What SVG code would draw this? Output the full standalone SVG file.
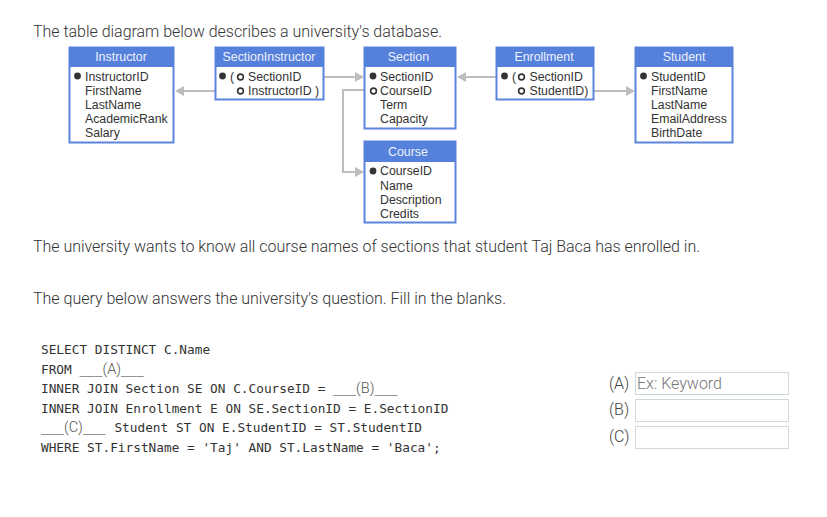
<svg xmlns="http://www.w3.org/2000/svg" width="827" height="517" viewBox="0 0 827 517">
<style>
.box{fill:#fff;stroke:#5b84dc;stroke-width:2}
.hd{fill:#5580db}
.ht{font:12.4px "Liberation Sans",Arial,sans-serif;fill:#eef2fb;text-anchor:middle}
.t{font:12.3px "Liberation Sans",Arial,sans-serif;fill:#333}
.p{font:300 16px Roboto,sans-serif;fill:#333}
.c{font:12.77px "DejaVu Sans Mono",monospace;fill:#333}
.l{font:300 16px Roboto,sans-serif;fill:#444}
.s{font:300 14.5px Roboto,sans-serif;fill:#555}
.b{fill:#333}
.o{fill:none;stroke:#333;stroke-width:1.6}
.line{fill:none;stroke:#bdbdbd;stroke-width:2}
.arrow{fill:#bdbdbd}
.inp{fill:#fff;stroke:#cfd8dc;stroke-width:1}
</style>
<rect width="827" height="517" fill="#fff"/>
<text class="p" x="33" y="37" textLength="409">The table diagram below describes a university's database.</text>
<g id="connectors">
<path class="line" d="M215 91H181M324 77H357M364 90H343V172H357M496 77H463M594 91H628"/>
<path class="arrow" d="M175 91l9-5v10zM364 77l-9-5v10zM364 172l-9-5v10zM457 77l9-5v10zM635 91l-9-5v10z"/>
</g>
<g id="instructor">
<rect class="box" x="69.500" y="47.500" width="104" height="95"/><rect class="hd" x="69" y="47" width="105" height="20"/>
<text class="ht" x="121" y="61">Instructor</text>
<circle class="b" cx="77.500" cy="76" r="3.400"/>
<text class="t" x="85" y="81">InstructorID</text><text class="t" x="85" y="95">FirstName</text><text class="t" x="85" y="109">LastName</text><text class="t" x="85" y="123">AcademicRank</text><text class="t" x="85" y="137">Salary</text>
</g>
<g id="sectioninstructor">
<rect class="box" x="215.500" y="47.500" width="108" height="52"/><rect class="hd" x="215" y="47" width="109" height="20"/>
<text class="ht" x="269" y="61">SectionInstructor</text>
<circle class="b" cx="222.500" cy="76" r="3.400"/>
<text class="t" x="230" y="81">(</text><circle class="o" cx="240.500" cy="77" r="2.900"/><text class="t" x="248" y="81">SectionID</text>
<circle class="o" cx="240.500" cy="91" r="2.900"/><text class="t" x="248" y="95">InstructorID )</text>
</g>
<g id="section">
<rect class="box" x="364.500" y="47.500" width="91" height="81"/><rect class="hd" x="364" y="47" width="92" height="20"/>
<text class="ht" x="408.500" y="61">Section</text>
<circle class="b" cx="373" cy="76" r="3.400"/><circle class="o" cx="373.500" cy="91" r="2.900"/>
<text class="t" x="380" y="81">SectionID</text><text class="t" x="380" y="95">CourseID</text><text class="t" x="380" y="109">Term</text><text class="t" x="380" y="123">Capacity</text>
</g>
<g id="course">
<rect class="box" x="364.500" y="141.500" width="91" height="81"/><rect class="hd" x="364" y="141" width="92" height="21"/>
<text class="ht" x="408" y="156">Course</text>
<circle class="b" cx="373" cy="171" r="3.400"/>
<text class="t" x="380" y="175">CourseID</text><text class="t" x="380" y="190">Name</text><text class="t" x="380" y="204">Description</text><text class="t" x="380" y="218">Credits</text>
</g>
<g id="enrollment">
<rect class="box" x="496.500" y="47.500" width="97" height="52"/><rect class="hd" x="496" y="47" width="98" height="20"/>
<text class="ht" x="544" y="61">Enrollment</text>
<circle class="b" cx="504.500" cy="76" r="3.400"/>
<text class="t" x="512" y="81">(</text><circle class="o" cx="521.500" cy="77" r="2.900"/><text class="t" x="529.500" y="81">SectionID</text>
<circle class="o" cx="521.500" cy="91" r="2.900"/><text class="t" x="529.500" y="95">StudentID)</text>
</g>
<g id="student">
<rect class="box" x="635.500" y="47.500" width="97" height="95"/><rect class="hd" x="635" y="47" width="98" height="20"/>
<text class="ht" x="684" y="61">Student</text>
<circle class="b" cx="643.500" cy="76" r="3.400"/>
<text class="t" x="651" y="81">StudentID</text><text class="t" x="651" y="95">FirstName</text><text class="t" x="651" y="109">LastName</text><text class="t" x="651" y="123">EmailAddress</text><text class="t" x="651" y="137">BirthDate</text>
</g>
<text class="p" x="33" y="252" textLength="667">The university wants to know all course names of sections that student Taj Baca has enrolled in.</text>
<text class="p" x="33" y="304" textLength="473">The query below answers the university's question. Fill in the blanks.</text>
<text class="c" x="41" y="354">SELECT DISTINCT C.Name</text>
<text class="c" x="41" y="374">FROM ___<tspan class="s">(A)</tspan>___</text>
<text class="c" x="41" y="393">INNER JOIN Section SE ON C.CourseID = ___<tspan class="s">(B)</tspan>___</text>
<text class="c" x="41" y="413">INNER JOIN Enrollment E ON SE.SectionID = E.SectionID</text>
<text class="c" x="41" y="432">___<tspan class="s">(C)</tspan>___<tspan dx="1"> </tspan>Student ST ON E.StudentID = ST.StudentID</text>
<text class="c" x="41" y="452">WHERE ST.FirstName = 'Taj' AND ST.LastName = 'Baca';</text>
<text class="l" x="609" y="389">(A)</text><text class="l" x="609" y="415">(B)</text><text class="l" x="609" y="442">(C)</text>
<rect class="inp" x="635.500" y="372.500" width="153" height="22"/>
<rect class="inp" x="635.500" y="399.500" width="153" height="22"/>
<rect class="inp" x="635.500" y="426.500" width="153" height="22"/>
<text class="l" x="637" y="389" style="fill:#757575">Ex: Keyword</text>
</svg>
